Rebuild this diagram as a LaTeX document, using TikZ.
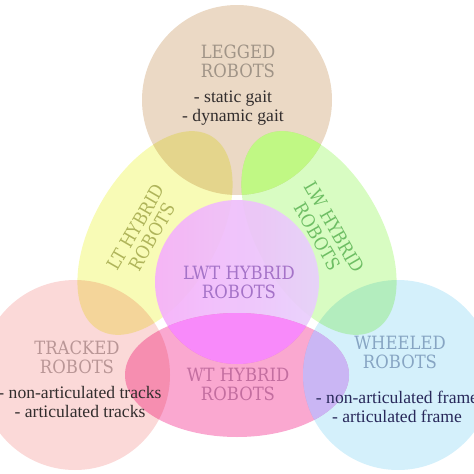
\documentclass[tikz,border=0pt]{standalone}
\usepackage{fontspec}
\setmainfont{Liberation Serif}
\newfontfamily\slabfont{DejaVu Serif Condensed}
\usepackage{tikz}
\definecolor{leggedc}{RGB}{235,217,197}
\definecolor{trackedc}{RGB}{251,217,216}
\definecolor{wheeledc}{RGB}{212,240,251}
\definecolor{ltc}{RGB}{248,251,182}
\definecolor{lwc}{RGB}{216,252,194}
\definecolor{lwlobe}{RGB}{192,248,132}
\definecolor{lwtl}{RGB}{245,176,250}
\definecolor{lwtr}{RGB}{232,208,252}
\definecolor{wtc}{RGB}{250,168,208}
\definecolor{wtlwt}{RGB}{248,138,250}
\definecolor{wtwheel}{RGB}{202,182,244}
\definecolor{bodyc}{RGB}{50,45,45}
\definecolor{wheelbody}{RGB}{40,40,90}
\tikzset{
	title/.style={font=\slabfont\fontsize{13}{13.5}\selectfont, align=center, inner sep=0pt},
	body/.style={font=\fontsize{12.5}{13.5}\selectfont, align=center, inner sep=0pt, text=bodyc},
}

\begin{document}
\begin{tikzpicture}[x=0.025cm,y=-0.025cm]
	\useasboundingbox (0,0) rectangle (474,474);
	\begin{scope}[blend mode=multiply]
	\fill[leggedc] (237,100) circle (95);
	\fill[trackedc] (75,375) circle (95);
	\fill[wheeledc] (398,375) circle (95);
	\fill[ltc,rotate around={60:(155,233)}] (155,233) ellipse [x radius=112, y radius=62];
	\fill[lwc,rotate around={-60:(319,233)}] (319,233) ellipse [x radius=112, y radius=62];
	\end{scope}
	% lime lobe where LW meets legged
	\begin{scope}
	\clip (237,100) circle (95);
	\fill[lwlobe,rotate around={-60:(319,233)}] (319,233) ellipse [x radius=112, y radius=62];
	\end{scope}
	\shade[left color=lwtl,right color=lwtr,opacity=.93] (237,282) circle (82);
	\begin{scope}[blend mode=multiply]
	\fill[wtc] (237,375) ellipse [x radius=112, y radius=62];
	\end{scope}
	% magenta where WT meets LWT
	\begin{scope}
	\clip (237,282) circle (82);
	\fill[wtlwt] (237,375) ellipse [x radius=112, y radius=62];
	\end{scope}
	% lavender where WT meets wheeled
	\begin{scope}
	\clip (398,375) circle (95);
	\fill[wtwheel] (237,375) ellipse [x radius=112, y radius=62];
	\end{scope}
	% labels
	\node[title,text={rgb,255:red,160;green,148;blue,135}] at (238,61) (legged) {LEGGED\\ROBOTS};
	\node[body] at (233,108) (leggedlist) {- static gait\\- dynamic gait};
	\node[title,text={rgb,255:red,185;green,150;blue,150}] at (77,357) (tracked) {TRACKED\\ROBOTS};
	\node[body] at (80,402) (trackedlist) {- non-articulated tracks\\- articulated tracks};
	\node[title,text={rgb,255:red,135;green,165;blue,195}] at (400,352) (wheeled) {WHEELED\\ROBOTS};
	\node[body,text=wheelbody] at (397,407) (wheeledlist) {- non-articulated frame\\- articulated frame};
	\node[title,rotate=60,text={rgb,255:red,175;green,180;blue,90}] at (144,232) (lt) {LT HYBRID\\ROBOTS};
	\node[title,rotate=-60,text={rgb,255:red,110;green,190;blue,100}] at (326,232) (lw) {LW HYBRID\\ROBOTS};
	\node[title,text={rgb,255:red,165;green,115;blue,200}] at (239,282) (lwt) {LWT HYBRID\\ROBOTS};
	\node[title,text={rgb,255:red,195;green,110;blue,160}] at (238,384) (wt) {WT HYBRID\\ROBOTS};
\end{tikzpicture}
\end{document}
